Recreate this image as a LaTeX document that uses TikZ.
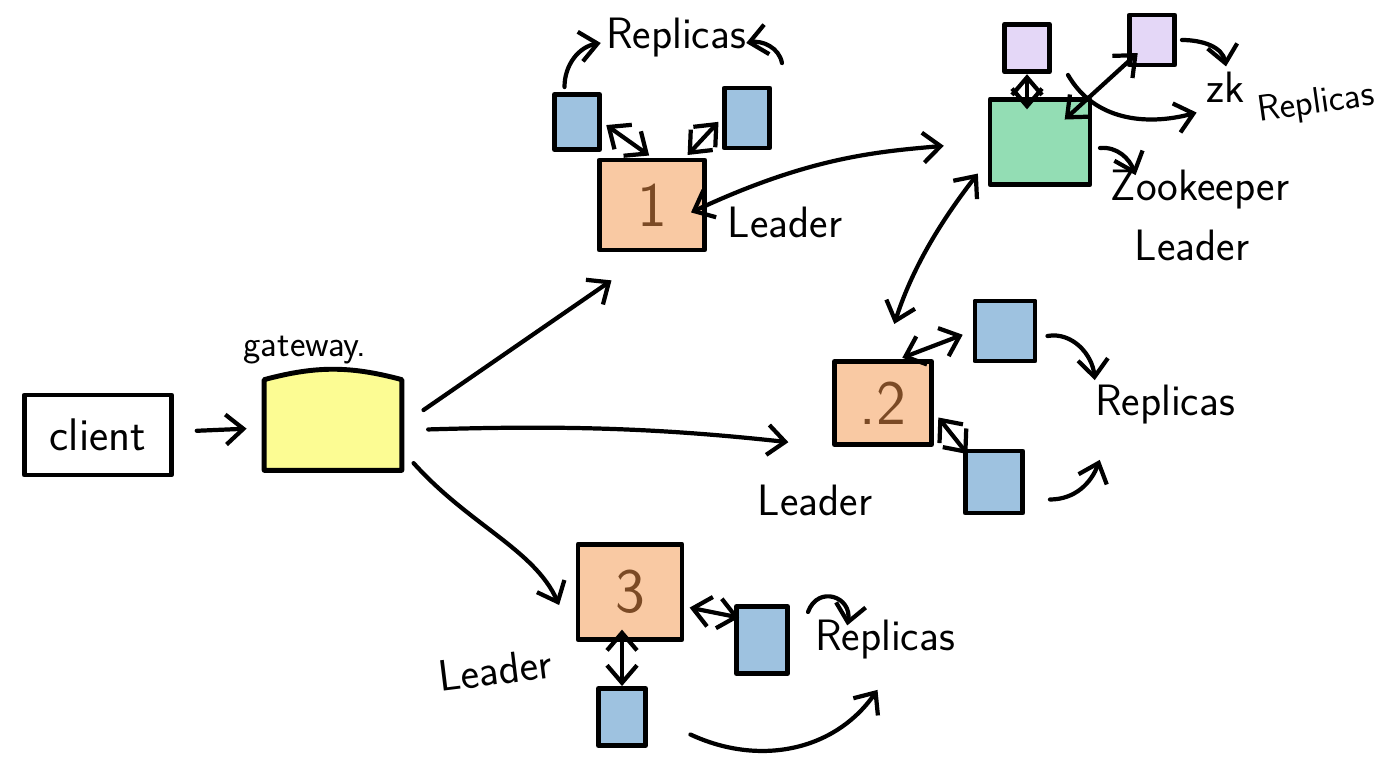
\documentclass[tikz,border=0pt]{standalone}
\usepackage{tikz}
\usetikzlibrary{arrows.meta}
\definecolor{peach}{HTML}{F9C9A3}
\definecolor{replblue}{HTML}{9EC2E0}
\definecolor{zkgreen}{HTML}{93DDB4}
\definecolor{zkpurple}{HTML}{E4D7F7}
\definecolor{gwyellow}{HTML}{FCFC93}
\definecolor{numbrown}{HTML}{7B4A25}
\tikzset{
  box/.style={draw=black,line width=2.8pt,line join=round,inner sep=0pt},
  leaderbox/.style={box,fill=peach,minimum width=2.1cm,minimum height=1.8cm,
    font=\sffamily\fontsize{36}{40}\selectfont,text=numbrown},
  replbox/.style={box,fill=replblue},
  zkbox/.style={box,fill=zkpurple,minimum width=0.9cm,minimum height=0.95cm},
  lbl/.style={font=\sffamily\fontsize{25}{30}\selectfont,inner sep=0pt},
  smalllbl/.style={font=\sffamily\fontsize{21}{25}\selectfont,inner sep=0pt},
  link/.style={line width=2.4pt,line cap=round},
}
\begin{document}
\begin{tikzpicture}[x=0.02cm,y=0.02cm,>={Straight Barb[length=3.5mm,width=6mm]}]
\useasboundingbox (0,0) rectangle (1400,-780);
% client and gateway
\node[box,minimum width=2.94cm,minimum height=1.6cm,font=\sffamily\fontsize{26}{30}\selectfont] (client) at (98,-435) {client};
\node[minimum width=2.74cm,minimum height=1.8cm] (gw) at (333,-425) {};
\draw[box,fill=gwyellow] (gw.south west) -- (gw.north west) to[bend left=15] (gw.north east) -- (gw.south east) -- cycle;
% leaders
\node[leaderbox] (ld1) at (652,-205) {1};
\node[leaderbox,minimum width=1.94cm,minimum height=1.66cm] (ld2) at (883,-403) {.2};
\node[leaderbox,minimum width=2.08cm,minimum height=1.9cm] (ld3) at (630,-592) {3};
% replicas
\node[replbox,minimum width=0.9cm,minimum height=1.1cm] (r1a) at (577,-122) {};
\node[replbox,minimum width=0.9cm,minimum height=1.2cm] (r1b) at (747,-118) {};
\node[replbox,minimum width=1.2cm,minimum height=1.2cm] (r2a) at (1005,-331) {};
\node[replbox,minimum width=1.14cm,minimum height=1.24cm] (r2b) at (994,-482) {};
\node[replbox,minimum width=1.02cm,minimum height=1.34cm] (r3a) at (762,-640) {};
\node[replbox,minimum width=0.94cm,minimum height=1.14cm] (r3b) at (622,-717) {};
% zookeeper
\node[box,fill=zkgreen,minimum width=2cm,minimum height=1.7cm] (zkl) at (1040,-142) {};
\node[zkbox] (zka) at (1027,-48) {};
\node[zkbox,minimum height=1cm] (zkb) at (1152,-40) {};
% labels
\node[smalllbl] (lbgw) at (305,-350) {gateway.};
\node[lbl] (lbrep1) at (676,-38) {Replicas};
\node[lbl] (lbl1) at (785,-222) {Leader};
\node[lbl] (lbzk) at (1226,-87) {zk};
\node[smalllbl,rotate=8] (lbzkrep) at (1316,-104) {Replicas};
\node[lbl] (lbzkl1) at (1200,-190) {Zookeeper};
\node[lbl] (lbzkl2) at (1192,-245) {Leader};
\node[lbl] (lbl2) at (815,-500) {Leader};
\node[lbl] (lbrep2) at (1165,-405) {Replicas};
\node[lbl,rotate=7] (lbl3) at (495,-670) {Leader};
\node[lbl] (lbrep3) at (885,-640) {Replicas};
\coordinate (zkc) at (1068,-75);
\coordinate (c3) at (808,-612);
% gateway links
\draw[link,->,shorten <=13pt,shorten >=10pt] (client) -- (gw);
\draw[link,->,shorten <=15pt,shorten >=28pt] (gw.east) -- (ld1.south);
\draw[link,->,shorten <=15pt,shorten >=25pt] ([yshift=-3pt]gw.east) to[bend left=4] (ld2.south west);
\draw[link,->,shorten <=10pt,shorten >=23pt] (gw.-20) to[out=-48,in=114] (ld3.south west);
% leader 1
\draw[link,<->,shorten <=-10pt,shorten >=25pt] (ld1.east) to[out=25,in=185] (zkl.west);
\draw[link,<->,shorten <=3pt,shorten >=2pt] (r1a.east) -- (ld1.north);
\draw[link,<->,shorten <=3pt,shorten >=2pt] (r1b.west) -- (ld1.55);
\draw[link,->] ([xshift=-0.25cm,yshift=0.1cm]r1a.north) to[out=90,in=190] ([xshift=-0.1cm,yshift=-0.1cm]lbrep1.west);
\draw[link,->] ([xshift=0.2cm,yshift=0.45cm]r1b.north east) to[out=100,in=10] ([yshift=-0.1cm]lbrep1.east);
% zookeeper
\draw[link,<->,shorten <=9pt,shorten >=21pt] (zkl.200) to[bend right=10] (ld2.north);
\draw[link,<->,shorten >=-7pt] (zka.south) -- (zka.south |- zkl.north);
\draw[link,<->,shorten <=19pt,shorten >=11pt] (zkl.center) -- (zkb.center);
\draw[link,->] ([xshift=0.1cm]zkb.east) to[out=0,in=100] ([yshift=0.1cm]lbzk.north);
\draw[link,->] (zkc) to[out=-60,in=195] ([xshift=-0.2cm,yshift=-0.2cm]lbzk.south west);
\draw[link,->] ([xshift=0.15cm,yshift=-0.12cm]zkl.east) to[out=5,in=110] ([xshift=0.5cm,yshift=-0.1cm]lbzkl1.north west);
% leader 2
\draw[link,<->,shorten <=2pt,shorten >=6pt] (ld2.70) -- (r2a.west);
\draw[link,<->,shorten <=4pt,shorten >=-4pt] (ld2.-10) -- (r2b.north west);
\draw[link,->] ([xshift=0.2cm,yshift=-0.1cm]r2a.east) to[out=10,in=95] ([yshift=0.1cm]lbrep2.north west);
\draw[link,->] ([xshift=0.5cm,yshift=-0.35cm]r2b.east) to[out=0,in=-110] ([xshift=0.1cm,yshift=-0.7cm]lbrep2.south west);
% leader 3
\draw[link,<->,shorten <=3pt,shorten >=-3pt] (ld3.-15) -- (r3a.140);
\draw[link,<->,shorten >=-7pt] (r3b.north) -- (r3b.north |- ld3.south);
\draw[link,->] (c3) to[out=70,in=80,looseness=1.8] ([xshift=0.65cm,yshift=-3pt]lbrep3.north west);
\draw[link,->] ([xshift=0.85cm,yshift=-0.35cm]r3b.east) to[out=-25,in=-125] ([xshift=-0.15cm,yshift=-0.6cm]lbrep3.south);
\end{tikzpicture}
\end{document}
